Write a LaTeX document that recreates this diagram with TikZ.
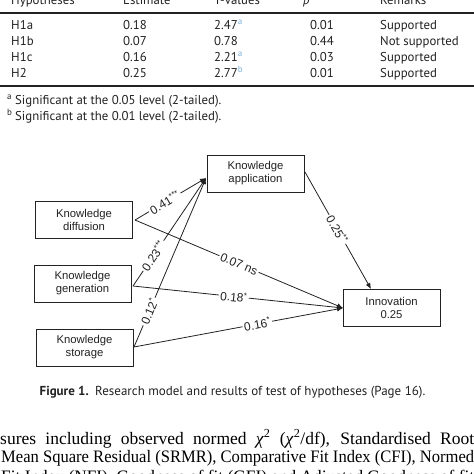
\documentclass[tikz,border=0pt]{standalone}
\usepackage{fontspec}
\usepackage{graphicx}
\setmainfont{Liberation Serif}
\newfontfamily\tabfont{PT Sans}
\newfontfamily\diafont{Liberation Sans}
\usetikzlibrary{arrows.meta}
\definecolor{ink}{HTML}{222222}
\definecolor{linkblue}{HTML}{7FB2DD}
\begin{document}
\begin{tikzpicture}[x=1pt,y=-1pt,
  tab/.style={anchor=base west,inner sep=0pt,font=\tabfont\fontsize{12.8}{14}\selectfont,text=ink},
  box/.style={draw=ink,line width=0.9pt,minimum width=97pt,minimum height=37pt,align=center,
    font=\diafont\fontsize{11.3}{13}\selectfont,inner sep=0pt,text=ink},
  conn/.style={draw=ink,line width=0.8pt,-{Latex[length=6pt,width=5pt]}},
  lab/.style={sloped,fill=white,inner sep=1.5pt,font=\diafont\fontsize{12}{13}\selectfont,text=ink},
  body/.style={anchor=base west,inner sep=0pt,font=\fontsize{17.5}{17.5}\selectfont,text=black}]
\useasboundingbox (0,0) rectangle (474,474);
\fill[white] (0,0) rectangle (474,474);
\clip (0,0) rectangle (474,474);
% table
\node[tab] (th1) at (11,4) {Hypotheses};
\node[tab] (th2) at (123,4) {Estimate};
\node[tab] (th3) at (214,4) {T-values};
\node[tab] (th4) at (303,4) {\itshape p};
\node[tab] (th5) at (380,4) {Remarks};
\draw[line width=1.4pt,ink] (0,13) -- (474,13);
\node[tab] (r1a) at (11,29) {H1a};
\node[tab] (r1b) at (123,29) {0.18};
\node[tab] (r1c) at (214,29) {2.47\textsuperscript{\color{linkblue}a}};
\node[tab] (r1d) at (310,29) {0.01};
\node[tab] (r1e) at (380,29) {Supported};
\node[tab] (r2a) at (11,45) {H1b};
\node[tab] (r2b) at (123,45) {0.07};
\node[tab] (r2c) at (214,45) {0.78};
\node[tab] (r2d) at (310,45) {0.44};
\node[tab] (r2e) at (380,45) {Not supported};
\node[tab] (r3a) at (11,61) {H1c};
\node[tab] (r3b) at (123,61) {0.16};
\node[tab] (r3c) at (214,61) {2.21\textsuperscript{\color{linkblue}a}};
\node[tab] (r3d) at (310,61) {0.03};
\node[tab] (r3e) at (380,61) {Supported};
\node[tab] (r4a) at (11,77) {H2};
\node[tab] (r4b) at (123,77) {0.25};
\node[tab] (r4c) at (214,77) {2.77\textsuperscript{\color{linkblue}b}};
\node[tab] (r4d) at (310,77) {0.01};
\node[tab] (r4e) at (380,77) {Supported};
\draw[line width=1.4pt,ink] (0,86) -- (474,86);
\node[tab] (fa) at (7,104) {\textsuperscript{a}};
\node[tab] (fat) at (15,104) {Significant at the 0.05 level (2-tailed).};
\node[tab] (fb) at (7,120) {\textsuperscript{b}};
\node[tab] (fbt) at (15,120) {Significant at the 0.01 level (2-tailed).};
% diagram
\node[box] (app) at (255.5,173.5) {Knowledge\\application};
\node[box] (diff) at (84,220) {Knowledge\\diffusion};
\node[box] (gen) at (82.5,283.5) {Knowledge\\generation};
\node[box] (stor) at (84.5,347.5) {Knowledge\\storage};
\node[box] (inno) at (391.5,307.5) {Innovation\\0.25};
\coordinate (sD) at (135,220);
\coordinate (sG) at (133,286);
\coordinate (sS) at (134,347);
\coordinate (eA) at (206,178);
\coordinate (eI) at (343,308);
\coordinate (sA) at (305,172);
\coordinate (eIt) at (371,289);
\draw[conn] (sD) -- node[lab,pos=0.42] {0.41\textsuperscript{***}} (eA);
\draw[conn] (sG) -- node[lab,pos=0.28] {0.23\textsuperscript{***}} (eA);
\draw[conn] (sS) -- node[lab,pos=0.21] {0.12\textsuperscript{*}} (eA);
\draw[conn] (sD) -- node[lab,pos=0.5] {0.07 ns} (eI);
\draw[conn] (sG) -- node[lab,pos=0.48] {0.18\textsuperscript{*}} (eI);
\draw[conn] (sS) -- node[lab,pos=0.59] {0.16\textsuperscript{*}} (eI);
\draw[conn] (sA) -- node[lab,pos=0.49] {0.25\textsuperscript{**}} (eIt);
% caption
\node[anchor=base,inner sep=0pt,font=\tabfont\fontsize{13}{14}\selectfont,text=ink] (cap) at (232.5,395)
  {\textbf{Figure 1.}\enspace Research model and results of test of hypotheses (Page 16).};
% body text
\node[body] (b1) at (0,444) {\makebox[474pt][s]{sures including observed normed \textit{χ}\textsuperscript{2} (\textit{χ}\textsuperscript{2}/df), Standardised Root}};
\node[body] (b2) at (1,462) {\resizebox{473pt}{\height}{Mean Square Residual (SRMR), Comparative Fit Index (CFI), Normed}};
\node[body] (b3) at (1,482) {\resizebox{473pt}{\height}{Fit Index (NFI), Goodness of fit (GFI) and Adjusted Goodness of fit}};
\end{tikzpicture}
\end{document}
